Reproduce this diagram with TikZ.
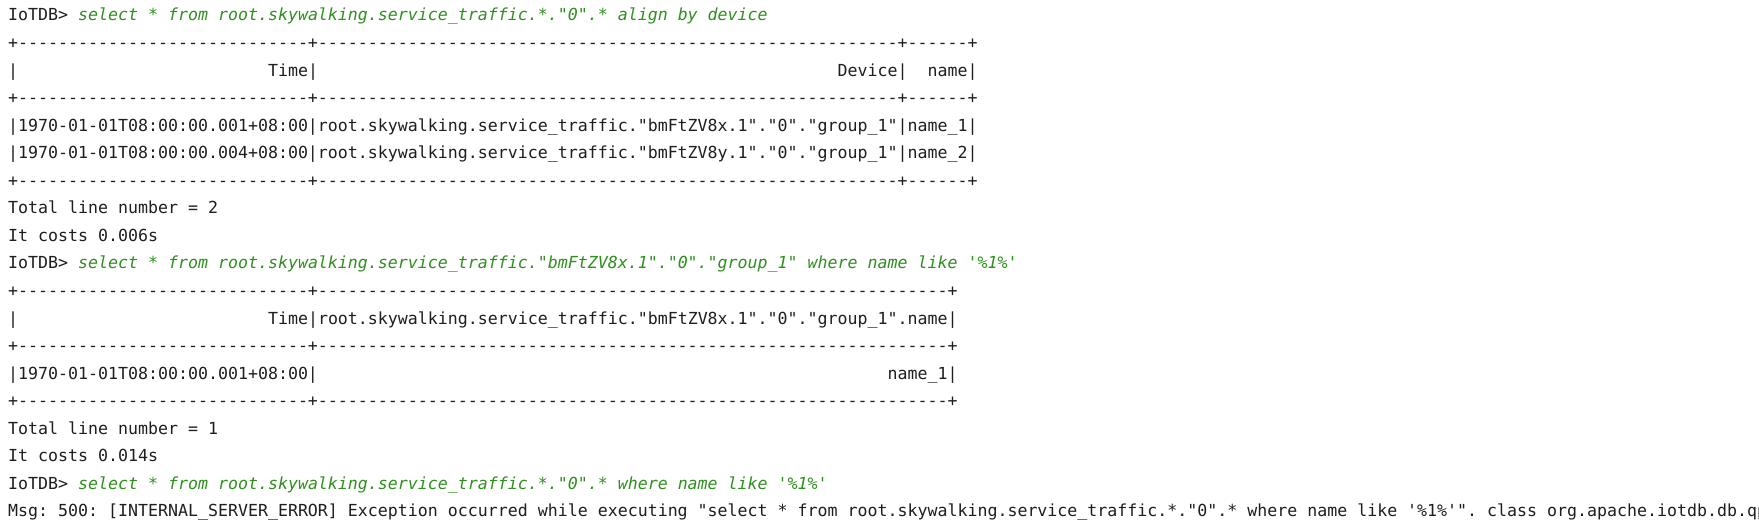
\documentclass[tikz,border=0pt]{standalone}
\usepackage{fontspec}
\newfontfamily\tm{DejaVu Sans Mono}
\newfontfamily\tmi{DejaVu Sans Mono Oblique}
\definecolor{cmdgreen}{HTML}{2F8F1F}
\definecolor{txt}{HTML}{1E1E1E}
\frenchspacing
\newcommand\myrep[2]{\foreach \i in {1,...,#1}{#2}}
\newcommand\sepA{+\myrep{29}{-}+\myrep{58}{-}+\myrep{6}{-}+}
\newcommand\sepB{+\myrep{29}{-}+\myrep{63}{-}+}
\newcommand\cmd[1]{{\tmi\color{cmdgreen}#1}}
\begin{document}
\begin{tikzpicture}[x=1pt,y=1pt,
  ln/.style={anchor=base west,inner sep=0pt,font=\tm\frenchspacing\fontsize{16.6}{18}\selectfont,text=txt}]
\clip (0,0) rectangle (1759,526);
\useasboundingbox (0,0) rectangle (1759,526);
\fill[white] (0,0) rectangle (1759,526);
\def\Y#1{526-21-27.55*#1}
\node[ln] (l0) at (8,{\Y0}) {IoTDB> \cmd{select * from root.skywalking.service\_traffic.*."0".* align by device}};
\node[ln] (l1) at (8,{\Y1}) {\sepA};
\node[ln] (l2) at (8,{\Y2}) {|\myrep{25}{~}Time|\myrep{52}{~}Device|~~name|};
\node[ln] (l3) at (8,{\Y3}) {\sepA};
\node[ln] (l4) at (8,{\Y4}) {|1970-01-01T08:00:00.001+08:00|root.skywalking.service\_traffic."bmFtZV8x.1"."0"."group\_1"|name\_1|};
\node[ln] (l5) at (8,{\Y5}) {|1970-01-01T08:00:00.004+08:00|root.skywalking.service\_traffic."bmFtZV8y.1"."0"."group\_1"|name\_2|};
\node[ln] (l6) at (8,{\Y6}) {\sepA};
\node[ln] (l7) at (8,{\Y7}) {Total line number = 2};
\node[ln] (l8) at (8,{\Y8}) {It costs 0.006s};
\node[ln] (l9) at (8,{\Y9}) {IoTDB> \cmd{select * from root.skywalking.service\_traffic."bmFtZV8x.1"."0"."group\_1" where name like '\%1\%'}};
\node[ln] (l10) at (8,{\Y{10}}) {\sepB};
\node[ln] (l11) at (8,{\Y{11}}) {|\myrep{25}{~}Time|root.skywalking.service\_traffic."bmFtZV8x.1"."0"."group\_1".name|};
\node[ln] (l12) at (8,{\Y{12}}) {\sepB};
\node[ln] (l13) at (8,{\Y{13}}) {|1970-01-01T08:00:00.001+08:00|\myrep{57}{~}name\_1|};
\node[ln] (l14) at (8,{\Y{14}}) {\sepB};
\node[ln] (l15) at (8,{\Y{15}}) {Total line number = 1};
\node[ln] (l16) at (8,{\Y{16}}) {It costs 0.014s};
\node[ln] (l17) at (8,{\Y{17}}) {IoTDB> \cmd{select * from root.skywalking.service\_traffic.*."0".* where name like '\%1\%'}};
\node[ln] (l18) at (8,{\Y{18}}) {Msg: 500: [INTERNAL\_SERVER\_ERROR] Exception occurred while executing "select * from root.skywalking.service\_traffic.*."0".* where name like '\%1\%'". class org.apache.iotdb.db.qp};
\end{tikzpicture}
\end{document}
